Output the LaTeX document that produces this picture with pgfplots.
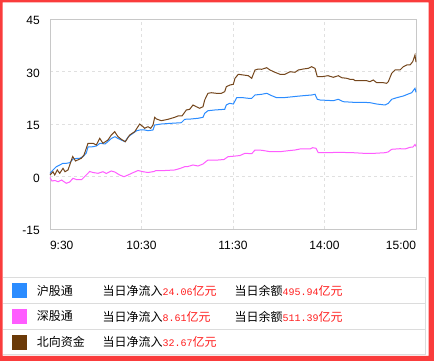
\documentclass[border=0pt]{standalone}
\usepackage{fontspec}
\setmainfont{Liberation Sans}
\newfontfamily\cjk{Noto Sans CJK SC}
\newfontfamily\numfont{Liberation Mono}
\usepackage{pgfplots}
\pgfplotsset{compat=1.18}
\definecolor{hgt}{HTML}{2B8CFF}
\definecolor{sgt}{HTML}{FF5CFF}
\definecolor{bxsq}{HTML}{6B3A08}
\definecolor{bxln}{HTML}{74461C}
\definecolor{bord}{HTML}{FA3C3C}
\definecolor{gridc}{HTML}{E0E0E0}
\definecolor{framec}{HTML}{C8C8C8}
\definecolor{tabc}{HTML}{DCDCDC}
\definecolor{numred}{HTML}{FF1E1E}
\begin{document}
\begin{tikzpicture}[font=\fontsize{12pt}{14pt}\selectfont]
\useasboundingbox (0,0) rectangle (434pt,361pt);
\fill[white] (0,0) rectangle (434pt,361pt);
\begin{axis}[
  at={(50pt,132pt)}, anchor=south west,
  width=366pt, height=210pt, scale only axis,
  xmin=0, xmax=240, ymin=-15, ymax=45,
  xtick={0,60,120,180,240},
  xticklabels={\makebox[0pt][l]{9:30},10:30,11:30,14:00,\makebox[0pt][r]{15:00}},
  ytick={-15,0,15,30,45},
  major tick length=0pt,
  grid=major,
  major grid style={gridc, dashed, line width=0.8pt},
  axis line style={framec, line width=0.8pt},
  /pgf/number format/assume math mode=true,
  yticklabel style={anchor=east, inner sep=0pt, xshift=-10pt, yshift=-1.5pt, text=black},
  xticklabel style={anchor=north, inner sep=0pt, yshift=-11.7pt, text=black},
  clip=false,
]
\addplot[hgt, line width=1pt] coordinates {
(0,0.91)(1.97,1.86)(4.13,2.80)(6.36,3.29)(8.52,3.77)(10.69,3.77)(12.92,3.94)(15.08,5.00)(17.25,5.14)(19.48,5.20)(21.64,5.66)(23.80,6.71)(24.92,8.43)(28.20,8.51)(30.36,8.71)(32.79,9.49)(36.07,9.29)(38.03,10.00)(40.20,10.86)(42.62,11.37)(44.59,10.86)(46.75,10.43)(49.18,9.94)(51.34,11.37)(53.77,12.14)(56.85,13.09)(59.02,13.29)(62.10,13.29)(64.26,13.09)(67.54,13.29)(68.66,14.71)(72.98,15.00)(79.54,15.20)(86.10,15.37)(88.33,16.34)(92.46,16.43)(97.05,16.63)(100.33,16.91)(101.44,18.06)(103.61,18.80)(108.00,19.00)(114.56,19.20)(115.61,20.43)(117.84,20.91)(120.20,20.71)(122.43,22.51)(126.75,22.51)(130.03,22.34)(132.26,22.34)(134.43,23.29)(138.82,23.49)(142.10,23.77)(145.38,23.09)(148.66,22.51)(152.98,22.51)(157.38,22.71)(161.77,22.91)(166.10,23.09)(171.61,23.29)(173.77,23.49)(175.28,22.06)(177.05,21.86)(185.77,21.66)(189.05,22.06)(192.33,21.37)(198.89,21.20)(205.44,21.20)(209.84,21.09)(214.23,20.71)(219.67,20.43)(221.84,20.91)(224.07,22.06)(227.34,22.51)(231.67,23.00)(234.95,23.57)(237.18,23.94)(239.34,25.20)(240,24.06)
};
\addplot[sgt, line width=1pt] coordinates {
(0,-0.29)(1.31,-1.29)(3.28,-1.14)(5.25,-1.49)(7.67,-1.00)(8.52,-1.29)(10.69,-1.94)(12.92,-1.57)(15.08,-0.51)(17.25,-0.86)(20.79,-0.86)(23.80,0.43)(26.03,1.43)(28.20,1.14)(31.48,0.91)(34.75,1.37)(36.92,0.86)(40.20,1.57)(42.43,1.29)(45.70,0.43)(48.52,-0.06)(51.15,0.43)(54.43,1.09)(57.70,1.71)(60.98,1.37)(64.26,1.14)(68.20,1.43)(69.51,1.71)(75.41,1.71)(81.77,1.86)(85.25,2.29)(88.33,2.80)(90.49,2.86)(93.77,3.29)(97.05,3.00)(100.33,3.57)(102.30,4.29)(103.61,4.71)(110.16,4.71)(114.10,4.86)(116.72,5.66)(121.77,5.86)(124.59,6.00)(127.87,6.63)(132.26,6.51)(134.43,7.57)(139.02,7.49)(144.26,7.09)(150.82,7.09)(156.26,7.37)(160.66,7.57)(163.93,7.86)(170.49,7.86)(172.26,8.23)(174.43,8.06)(175.93,6.80)(182.30,6.80)(188.85,6.91)(198.89,6.80)(205.44,6.63)(213.11,6.63)(219.67,6.80)(221.64,7.00)(224.07,7.77)(229.51,7.94)(232.79,7.86)(236.07,8.34)(238.03,8.43)(239.34,9.14)(240,8.61)
};
\addplot[bxln, line width=1pt] coordinates {
(0,0.43)(1.97,1.37)(3.08,0.43)(4.79,1.86)(6.36,0.91)(8.52,2.34)(9.84,1.37)(11.80,1.86)(14.89,5.71)(16.72,4.43)(20.52,5.20)(22.30,6.14)(24.92,9.49)(28.20,9.49)(30.36,9.00)(32.59,10.91)(34.75,9.49)(38.03,10.43)(40.20,11.86)(42.43,12.80)(44.59,11.37)(46.75,10.63)(49.38,9.94)(52.26,11.86)(55.54,12.80)(58.82,15.00)(60.98,14.23)(62.10,13.77)(64.26,14.23)(66.03,13.77)(67.54,14.71)(68.66,16.91)(69.84,16.43)(72.98,15.94)(77.38,16.34)(81.77,16.91)(83.93,17.29)(86.56,17.29)(89.38,19.00)(91.61,19.20)(93.77,20.43)(95.93,19.94)(98.16,19.49)(100.33,19.94)(101.44,21.86)(103.61,23.77)(105.77,23.94)(109.05,23.77)(112.33,23.77)(114.56,24.23)(115.61,25.66)(118.03,26.14)(120.20,26.34)(121.31,28.06)(123.48,29.20)(126.75,29.00)(130.03,28.80)(132.26,28.06)(134.43,30.43)(136.59,30.71)(138.82,30.63)(142.10,31.09)(144.26,30.43)(147.54,29.77)(150.82,29.20)(154.10,29.20)(157.38,29.94)(160.66,29.77)(162.82,30.43)(166.10,30.71)(169.38,30.91)(171.61,31.37)(173.77,30.91)(175.28,28.51)(178.16,28.51)(182.30,28.80)(185.77,28.34)(189.05,28.80)(191.28,28.23)(194.56,28.06)(196.72,27.77)(198.89,27.77)(200.00,27.37)(202.16,27.37)(207.67,27.37)(209.84,27.09)(212.00,27.57)(214.23,26.80)(218.56,26.80)(220.79,26.63)(221.84,27.09)(224.07,29.49)(226.23,30.43)(229.51,30.43)(231.67,31.37)(233.90,31.86)(236.07,31.86)(237.84,32.80)(239.34,34.71)(240,32.67)
};
\end{axis}
% legend table
\draw[tabc, line width=0.8pt] (2.5pt,83.3pt) -- (425.5pt,83.3pt);
\draw[tabc, line width=0.8pt] (2.5pt,57.7pt) -- (425.5pt,57.7pt);
\draw[tabc, line width=0.8pt] (2.5pt,32pt) -- (425.5pt,32pt);
\draw[tabc, line width=0.8pt] (2.5pt,6.5pt) -- (425.5pt,6.5pt);
\draw[tabc, line width=0.8pt] (425.5pt,6.5pt) -- (425.5pt,83.3pt);
\fill[hgt] (12pt,62.7pt) rectangle (27pt,77.7pt);
\fill[sgt] (12pt,37pt) rectangle (27pt,52pt);
\fill[bxsq] (12pt,11pt) rectangle (27pt,26pt);
\node[anchor=west, inner sep=0pt] at (36.7pt,70.3pt) {\cjk 沪股通};
\node[anchor=west, inner sep=0pt] at (36.7pt,44.5pt) {\cjk 深股通};
\node[anchor=west, inner sep=0pt] at (36.7pt,18.7pt) {\cjk 北向资金};
\node[anchor=west, inner sep=0pt] at (102.3pt,70.3pt) {{\cjk 当日净流入}{\color{numred}\numfont\fontsize{10pt}{12pt}\selectfont 24.06}{\color{numred}\cjk 亿元}};
\node[anchor=west, inner sep=0pt] at (102.3pt,44.5pt) {{\cjk 当日净流入}{\color{numred}\numfont\fontsize{10pt}{12pt}\selectfont 8.61}{\color{numred}\cjk 亿元}};
\node[anchor=west, inner sep=0pt] at (102.3pt,18.7pt) {{\cjk 当日净流入}{\color{numred}\numfont\fontsize{10pt}{12pt}\selectfont 32.67}{\color{numred}\cjk 亿元}};
\node[anchor=west, inner sep=0pt] at (234.3pt,70.3pt) {{\cjk 当日余额}{\color{numred}\numfont\fontsize{10pt}{12pt}\selectfont 495.94}{\color{numred}\cjk 亿元}};
\node[anchor=west, inner sep=0pt] at (234.3pt,44.5pt) {{\cjk 当日余额}{\color{numred}\numfont\fontsize{10pt}{12pt}\selectfont 511.39}{\color{numred}\cjk 亿元}};
% red border
\fill[bord, even odd rule] (0,0) rectangle (434pt,361pt) (2.7pt,5pt) rectangle (428.5pt,358.7pt);
\end{tikzpicture}
\end{document}
